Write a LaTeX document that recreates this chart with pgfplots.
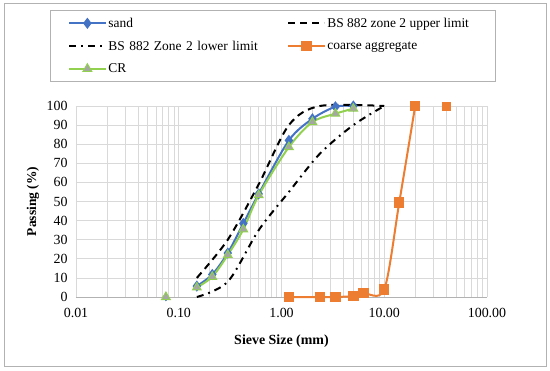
\documentclass[border=0pt]{standalone}
\usepackage{pgfplots}
\pgfplotsset{compat=1.18}
\usepackage{fontspec}
\setmainfont{Liberation Serif}
\definecolor{cblue}{HTML}{4472C4}
\definecolor{corange}{HTML}{ED7D31}
\definecolor{cgreen}{HTML}{92D050}
\definecolor{cgrey}{HTML}{A5A5A5}
\definecolor{gridc}{HTML}{D9D9D9}
\begin{document}
\begin{tikzpicture}[x=1bp,y=1bp]
\useasboundingbox (-76,-73) rectangle (474,297);
\draw[gray!60, line width=0.8bp] (-72,-69) rectangle (470,294);
\begin{axis}[at={(0,0)}, anchor=south west, scale only axis,
  width=411bp, height=191bp,
  xmode=log, xmin=0.01, xmax=100, ymin=0, ymax=100,
  xtick={0.01,0.1,1,10,100}, xticklabels={0.01,0.10,1.00,10.00,100.00},
  ytick={0,10,...,100},
  grid=both, xminorgrids=true,
  major grid style={gridc, line width=0.7bp},
  minor grid style={gridc, line width=0.7bp},
  axis x line*=bottom, axis y line*=left,
  x axis line style={gray!60, line width=0.8bp, -},
  y axis line style={gridc, line width=0.7bp, -},
  tick style={draw=none},
  font=\fontsize{14}{17}\selectfont,
  /pgf/number format/assume math mode=true,
  xticklabel style={yshift=-8bp},
  yticklabel style={xshift=-5bp},
  xlabel={\textbf{Sieve Size (mm)}},
  ylabel={\textbf{Passing (\%)}},
  xlabel style={at={(axis description cs:0.5,-0.232)}, anchor=center, font=\fontsize{14}{17}\selectfont},
  ylabel style={at={(axis description cs:-0.105,0.5)}, anchor=center, font=\fontsize{13.5}{16}\selectfont},
  clip=false,
  legend columns=2,
  legend cell align=left,
  legend style={at={(axis description cs:-0.0633,1.5026)}, anchor=north west,
    draw=gray!60, line width=0.8bp, font=\fontsize{13.5}{16}\selectfont,
    nodes={inner sep=2bp},
    /tikz/column 2/.style={column sep=17bp, nodes={text width=160bp}},
    row sep=8bp, inner xsep=18bp, inner ysep=5.5bp},
  legend image code/.code={\draw[mark repeat=2,mark phase=2,#1] plot coordinates {(0bp,0bp) (18bp,0bp) (36bp,0bp)};},
]
\addplot[cblue, line width=2bp, smooth, mark=diamond*, mark size=4bp, mark options={solid}]
  coordinates {(0.15,5.7)(0.212,11.8)(0.3,23)(0.425,38.5)(0.6,54)(1.18,82)(2,93.3)(3.35,99.6)(5,100)};
\addlegendentry{sand}
\addplot[black, line width=2bp, smooth, dash pattern=on 7bp off 5bp]
  coordinates {(0.15,10)(0.3,30)(0.6,59)(1.18,90)(2.36,100)(10,100)};
\addlegendentry{BS 882 zone 2 upper limit\hspace*{6bp}}
\addplot[black, line width=2bp, smooth, dash pattern=on 7bp off 5bp on 1.8bp off 5bp]
  coordinates {(0.15,0)(0.3,8)(0.6,35)(1.18,55)(2.36,75)(5,90)(10,100)};
\addlegendentry{BS 882 Zone 2 lower limit}
\addplot[corange, line width=2bp, smooth, mark=square*, mark size=4.2bp, mark options={solid}]
  coordinates {(1.18,0)(2.36,0)(3.35,0)(5,0.5)(6.3,2)(10,4)(14,49.5)(20,100)};
\addlegendentry{coarse aggregate}
\addplot[cgreen, line width=2bp, smooth, mark=triangle*, mark size=5bp, mark options={solid, fill=cgrey, draw=cgreen, line width=1bp}]
  coordinates {(0.15,5)(0.212,10.6)(0.3,22)(0.425,35.4)(0.6,53.3)(1.18,78.5)(2,91.6)(3.35,96)(5,98.6)};
\addlegendentry{CR}
\addplot[only marks, forget plot, corange, mark=square*, mark size=4.2bp] coordinates {(40,100)};
\addplot[only marks, forget plot, cblue, mark=diamond*, mark size=4bp] coordinates {(0.075,0)};
\addplot[only marks, forget plot, mark=triangle*, mark size=5bp, mark options={fill=cgrey, draw=cgreen, line width=1bp}] coordinates {(0.075,0)};
\end{axis}
\end{tikzpicture}
\end{document}
